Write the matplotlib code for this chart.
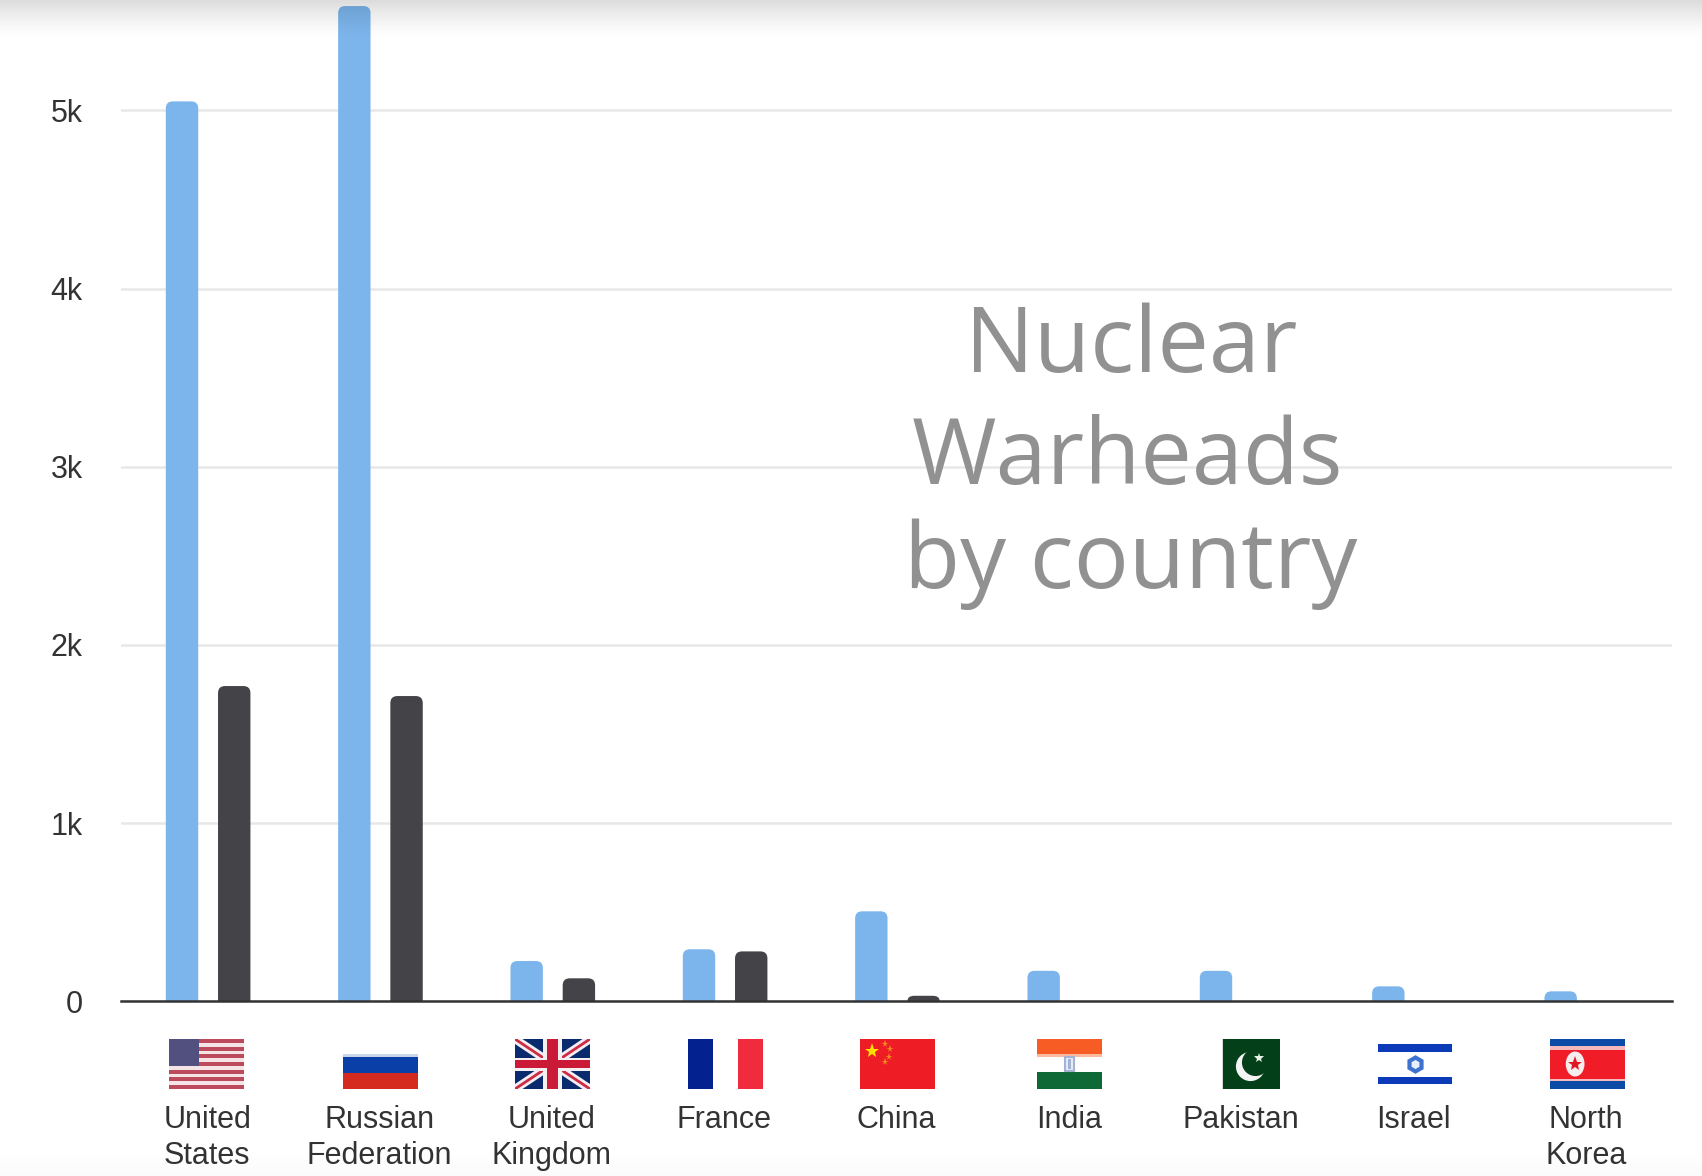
"""Nuclear warheads by country: grouped bars with flags under the axis."""
import matplotlib

matplotlib.use("Agg")
import matplotlib.pyplot as plt
import numpy as np
from matplotlib.patches import Ellipse, PathPatch, Rectangle
from matplotlib.path import Path

W, H = 1702, 1176

COUNTRIES = ["United\nStates", "Russian\nFederation", "United\nKingdom", "France",
             "China", "India", "Pakistan", "Israel", "North\nKorea"]
TOTAL = [5050, 5585, 226, 292, 505, 171, 171, 84, 56]
DEPLOYED = [1769, 1713, 129, 280, 31, 0, 0, 0, 0]
Y_TICKS = [0, 1000, 2000, 3000, 4000, 5000]
Y_LABELS = ["0", "1k", "2k", "3k", "4k", "5k"]

BLUE = "#7cb5ec"
DARK = "#434348"
TEXT = "#333333"


def px_axes(x0, y0, x1, y1, **kw):
    """Axes placed with pixel coords, y counted from the top of the image."""
    return fig.add_axes([x0 / W, 1 - y1 / H, (x1 - x0) / W, (y1 - y0) / H], **kw)


def round_tops(ax, bars, radius=7):
    """Swap the square bars for ones with rounded top corners."""
    to_px = ax.transData.transform
    sx = to_px((1, 0))[0] - to_px((0, 0))[0]
    sy = to_px((0, 1))[1] - to_px((0, 0))[1]
    rx, ry = radius / sx, radius / sy
    for bar in bars:
        x0, w, h = bar.get_x(), bar.get_width(), bar.get_height()
        if h <= 0:
            bar.remove()
            continue
        x1 = x0 + w
        r = min(ry, h)
        verts = [(x0, 0), (x0, h - r), (x0, h), (x0 + rx, h), (x1 - rx, h),
                 (x1, h), (x1, h - r), (x1, 0), (x0, 0)]
        codes = [Path.MOVETO, Path.LINETO, Path.CURVE3, Path.CURVE3, Path.LINETO,
                 Path.CURVE3, Path.CURVE3, Path.LINETO, Path.CLOSEPOLY]
        ax.add_patch(PathPatch(Path(verts, codes), fc=bar.get_facecolor(), ec="none", zorder=3))
        bar.remove()


def band(ax, y0, y1, color, x0=0, x1=1, zorder=1):
    ax.add_patch(Rectangle((x0, y0), x1 - x0, y1 - y0, fc=color, ec="none", zorder=zorder))


def flag_us(ax):
    for i in range(13):
        band(ax, i / 13, (i + 1) / 13, "#bd4a5c" if i % 2 == 0 else "#f4e4e6")
    band(ax, 6 / 13, 1, "#51507f", 0, 0.40)


def flag_ru(ax):
    band(ax, 0, 0.32, "#d52b1e")
    band(ax, 0.32, 0.64, "#0b3fa8")
    band(ax, 0.64, 0.71, "#c9d6ea")


def flag_uk(ax):
    band(ax, 0, 1, "#0a2a6e")
    for xs, ys in (([0, 1], [0, 1]), ([0, 1], [1, 0])):
        ax.plot(xs, ys, color="#f2eef2", lw=6, solid_capstyle="butt")
        ax.plot(xs, ys, color="#cf2b45", lw=2, solid_capstyle="butt")
    band(ax, 0.37, 0.63, "#f4f0f2", zorder=3)
    band(ax, 0, 1, "#f4f0f2", 0.37, 0.63, zorder=3)
    band(ax, 0.42, 0.58, "#cb1a38", zorder=4)
    band(ax, 0, 1, "#cb1a38", 0.43, 0.57, zorder=4)


def flag_fr(ax):
    band(ax, 0, 1, "#03218f", 0, 0.33)
    band(ax, 0, 1, "#ef2b3d", 0.66, 1)


def flag_cn(ax):
    band(ax, 0, 1, "#ee1c25")
    ax.plot(0.16, 0.77, marker="*", ms=11, color="#ffdd00", mew=0)
    for x, y in [(0.33, 0.91), (0.40, 0.81), (0.39, 0.64), (0.33, 0.55)]:
        ax.plot(x, y, marker="*", ms=5.5, color="#f58a1f", mew=0)


def flag_in(ax):
    band(ax, 0.70, 1, "#f65c24")
    band(ax, 0.65, 0.70, "#fbb9a0")
    band(ax, 0, 0.35, "#0f6937")
    ax.add_patch(Rectangle((0.43, 0.37), 0.14, 0.27, fc="#e8ecf4", ec="#a3b3d6", lw=1.5))
    band(ax, 0.40, 0.61, "#a3b3d6", 0.48, 0.52, zorder=3)


def flag_pk(ax):
    band(ax, 0, 1, "#03401a")
    band(ax, 0, 1, "#d8d8d8", 0, 0.025)
    ax.plot(0.49, 0.47, marker="o", ms=21, color="#f4f4f4", mew=0)
    ax.plot(0.57, 0.54, marker="o", ms=19.5, color="#03401a", mew=0)
    ax.plot(0.64, 0.63, marker="*", ms=7, color="#e8f0e8", mew=0)


def flag_il(ax):
    band(ax, 0.75, 0.90, "#0b3bb8")
    band(ax, 0.10, 0.25, "#0b3bb8")
    ax.plot(0.5, 0.5, marker="h", ms=10, mfc="#e8eefa", mec="#3f71cf", mew=3)


def flag_kp(ax):
    band(ax, 0.87, 1, "#0b4ba5")
    band(ax, 0, 0.17, "#0b4ba5")
    band(ax, 0.21, 0.79, "#f01c28")
    band(ax, 0.17, 0.21, "#f5b8bc")
    band(ax, 0.79, 0.87, "#f5b8bc")
    ax.add_patch(Ellipse((0.335, 0.5), 0.25, 0.5, fc="#f6eeee", ec="none"))
    ax.plot(0.335, 0.5, marker="*", ms=11, color="#e01824", mew=0)


# x extents of each flag image in pixels, all share the same rows
FLAG_TOP, FLAG_BOTTOM = 1039, 1089
FLAGS = [(flag_us, 169, 244), (flag_ru, 343, 418), (flag_uk, 515, 590), (flag_fr, 688, 763),
         (flag_cn, 860, 935), (flag_in, 1037, 1102), (flag_pk, 1222, 1280),
         (flag_il, 1378, 1452), (flag_kp, 1550, 1625)]

fig = plt.figure(figsize=(W / 100, H / 100), dpi=100, facecolor="white")
plt.rcParams["font.family"] = ["Liberation Sans", "DejaVu Sans"]

ax = px_axes(121, 0, 1672, 1001.3)
ax.set_xlim(-0.5, 8.5)
ax.set_ylim(0, 1001.3 / 0.1782)

x = np.arange(len(COUNTRIES))
blue = ax.bar(x - 0.146, TOTAL, width=0.188, color=BLUE, zorder=3)
dark = ax.bar(x + 0.157, DEPLOYED, width=0.188, color=DARK, zorder=3)
round_tops(ax, list(blue) + list(dark))

ax.set_yticks(Y_TICKS, Y_LABELS)
ax.set_xticks(x, COUNTRIES)
ax.tick_params(axis="y", length=0, pad=27.7, labelsize=22, labelcolor=TEXT)
ax.tick_params(axis="x", length=0, pad=75, labelsize=22, labelcolor=TEXT)
for label in ax.get_xticklabels():
    label.set_linespacing(1.23)
ax.grid(axis="y", color="#e8e8e8", lw=1.8, zorder=0)
ax.set_axisbelow(True)
for name in ("top", "right", "left"):
    ax.spines[name].set_visible(False)
ax.spines["bottom"].set(color="#333333", lw=1.8, zorder=5)
ax.patch.set_alpha(0)

# the three title lines do not sit at an even spacing in the original
for text, tx, baseline in [("Nuclear", 1131, 372), ("Warheads", 1127.5, 484),
                           ("by country", 1130.5, 588)]:
    fig.text(tx / W, 1 - baseline / H, text, ha="center", va="baseline", fontsize=66,
             color="#919191", family=["Open Sans", "DejaVu Sans"], zorder=4)

for draw, x0, x1 in FLAGS:
    fax = px_axes(x0, FLAG_TOP, x1, FLAG_BOTTOM)
    fax.set_xlim(0, 1)
    fax.set_ylim(0, 1)
    fax.axis("off")
    draw(fax)

# soft page shadow along the top edge, faint one along the bottom
shade = np.zeros((40, 2, 4))
shade[..., 3] = (0.14 * np.linspace(1, 0, 40) ** 1.4)[:, None]
top = px_axes(0, 0, W, 40, zorder=10)
top.imshow(shade, aspect="auto", interpolation="bilinear")
top.axis("off")

fade = np.zeros((30, 2, 4))
fade[..., 3] = np.linspace(0, 0.02, 30)[:, None]
bottom = px_axes(0, H - 30, W, H, zorder=10)
bottom.imshow(fade, aspect="auto", interpolation="bilinear")
bottom.axis("off")

fig.savefig("out.png", dpi=100)
